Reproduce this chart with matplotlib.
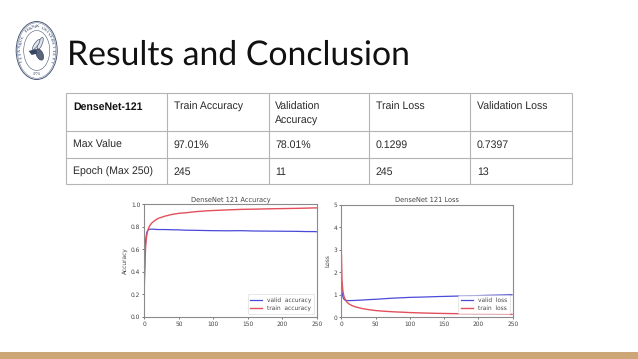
import numpy as np
import matplotlib
matplotlib.use("Agg")
import matplotlib.pyplot as plt
from matplotlib.patches import Ellipse, Polygon, Rectangle

plt.rcParams["text.hinting"] = "none"

W, H = 638, 359

# datos de la tabla
col_labels = ["DenseNet-121", "Train Accuracy", "Validation\nAccuracy", "Train Loss", "Validation Loss"]
row_max = ["Max Value", "97.01%", "78.01%", "0.1299", "0.7397"]
row_epoch = ["Epoch (Max 250)", "245", "11", "245", "13"]

# curvas
ep = [0, 1, 2, 3, 4, 5, 7, 9, 11, 15, 20, 30, 40, 50, 60, 75, 90, 100, 120, 140, 160, 180, 200, 220, 235, 245, 249]
valid_acc = [0.30, 0.58, 0.68, 0.73, 0.755, 0.77, 0.778, 0.779, 0.780, 0.778, 0.776, 0.776, 0.774, 0.773, 0.770, 0.769,
             0.767, 0.766, 0.765, 0.766, 0.763, 0.762, 0.761, 0.760, 0.758, 0.758, 0.757]
train_acc = [0.27, 0.50, 0.63, 0.70, 0.74, 0.765, 0.80, 0.82, 0.835, 0.855, 0.875, 0.895, 0.91, 0.92, 0.925, 0.935,
             0.942, 0.945, 0.95, 0.955, 0.957, 0.96, 0.962, 0.964, 0.966, 0.968, 0.968]
valid_loss = [1.75, 1.15, 0.95, 0.85, 0.80, 0.77, 0.75, 0.745, 0.74, 0.745, 0.75, 0.765, 0.785, 0.80, 0.82, 0.85,
              0.87, 0.885, 0.90, 0.92, 0.935, 0.95, 0.965, 0.98, 0.99, 1.0, 1.0]
train_loss = [3.0, 1.65, 1.25, 1.05, 0.92, 0.84, 0.72, 0.65, 0.60, 0.53, 0.47, 0.39, 0.34, 0.30, 0.275, 0.245,
              0.225, 0.21, 0.19, 0.175, 0.165, 0.155, 0.145, 0.14, 0.135, 0.13, 0.13]


def px_axes(fig, x0, y0, x1, y1):
    return fig.add_axes([x0 / W, 1 - y1 / H, (x1 - x0) / W, (y1 - y0) / H])


def panel(fig, box, title, ylabel, ymax, yticks, valid, train, names):
    ax = px_axes(fig, *box)
    ax.plot(ep, valid, color="#4a4ad8", lw=0.9, label=names[0])
    ax.plot(ep, train, color="#e2505c", lw=1.0, label=names[1])
    ax.set_xlim(0, 250)
    ax.set_ylim(0, ymax)
    ax.set_xticks(range(0, 251, 50))
    ax.set_yticks(yticks)
    ax.tick_params(labelsize=4.2, length=1.3, width=0.5, pad=1.5, colors="#444444")
    ax.set_title(title, fontsize=4.8, pad=2.2, color="#444444")
    ax.set_ylabel(ylabel, fontsize=4.2, labelpad=2, color="#444444")
    for s in ax.spines.values():
        s.set_color("#8a8a8a")
        s.set_linewidth(0.8)
    leg = ax.legend(loc="lower right", fontsize=4.2, handlelength=2.0, borderpad=0.5, labelspacing=0.4,
                    borderaxespad=0.5, fancybox=True, framealpha=0.8, labelcolor="#444444")
    leg.get_frame().set_linewidth(0.4)
    return ax


def logo(bg):
    cx, cy = 36.7, 50.5
    c = "#4a5a78"
    bg.add_patch(Ellipse((cx, cy), 41, 58, fc="none", ec=c, lw=0.7))
    bg.add_patch(Ellipse((cx, cy), 38.5, 55.5, fc="none", ec=c, lw=0.3))
    bg.add_patch(Ellipse((cx, cy), 26, 40, fc="none", ec=c, lw=0.4))
    txt = "ISTANBUL TEKNIK UNIVERSITESI"
    angs = np.linspace(205, -25, len(txt))
    for ch, a in zip(txt, angs):
        r = np.radians(a)
        bg.text(cx + 16.3 * np.cos(r), cy - 24 * np.sin(r), ch, fontsize=3, color=c, weight="bold",
                rotation=a - 90, ha="center", va="center", family="Liberation Serif")
    bg.text(cx, cy + 23.5, "1773", fontsize=2.8, color=c, weight="bold", ha="center", va="center",
            family="Liberation Serif")
    # abeja
    bg.add_patch(Ellipse((cx + 3.5, cy - 7), 4, 13, angle=22, fc="#e4e7ec", ec=c, lw=0.5))
    bg.add_patch(Ellipse((cx - 0.5, cy - 6), 3.5, 12, angle=35, fc="#e4e7ec", ec=c, lw=0.5))
    bg.add_patch(Ellipse((cx + 3, cy + 4), 6.5, 12, angle=-25, fc="#5a667e", ec="#39455f", lw=0.5))
    bg.add_patch(Polygon([(cx - 8, cy + 0.5), (cx - 1, cy - 1.5), (cx + 0.5, cy + 3), (cx - 5, cy + 4.5)],
                         fc="#39455f", ec="none"))


fig = plt.figure(figsize=(W / 100, H / 100), dpi=100, facecolor="white")
bg = fig.add_axes([0, 0, 1, 1])
bg.set_xlim(0, W)
bg.set_ylim(H, 0)
bg.axis("off")

bg.text(67, 65, "Results and Conclusion", fontsize=24.3, family="Lato", color="#111111", va="baseline", ha="left")
logo(bg)

# tabla
xs = [66.3, 167.3, 268.7, 369.3, 470.3, 571.7]
ys = [92.7, 131.3, 157.7, 184.3]
bg.vlines(xs, ys[0], ys[-1], color="#b4b4b4", lw=0.8)
bg.hlines(ys, xs[0], xs[-1], color="#b4b4b4", lw=0.8)
font = dict(fontsize=7.6, family="Liberation Sans", ha="left")
for i, lab in enumerate(col_labels):
    bg.text(xs[i] + 6.5, 102, lab, va="top", linespacing=1.3, color="#111111" if i == 0 else "#2a2a2a",
            weight="bold" if i == 0 else "normal", **font)
for i in range(5):
    bg.text(xs[i] + 6.5, 148, row_max[i], va="baseline", color="#2a2a2a", **font)
    bg.text(xs[i] + 6.5, 175, row_epoch[i], va="baseline", color="#2a2a2a", **font)

# franja inferior
bg.add_patch(Rectangle((0, 352), W, 7, fc="#cca677", ec="none"))

panel(fig, (144.3, 204.3, 317, 317), "DenseNet 121 Accuracy", "Accuracy", 1.0, [0, 0.2, 0.4, 0.6, 0.8, 1.0],
      valid_acc, train_acc, ["valid  accuracy", "train  accuracy"])
panel(fig, (341.3, 204.7, 512.7, 317.3), "DenseNet 121 Loss", "Loss", 5, range(6),
      valid_loss, train_loss, ["valid  loss", "train  loss"])

fig.savefig("out.png", dpi=100)
